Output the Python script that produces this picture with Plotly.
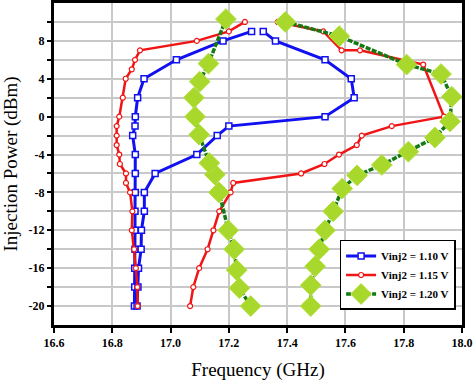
import plotly.graph_objects as go

# ---- data ----
# Vinj2 = 1.10 V : lower boundary (left branch), upper boundary (right branch)
b110_lo_f = [16.876, 16.877, 16.877, 16.878, 16.878, 16.878, 16.879, 16.879, 16.879, 16.870, 16.878, 16.879, 16.887, 16.909, 17.02, 17.18, 17.278]
b110_lo_p = [-20, -18, -16, -14, -12, -10, -8, -6, -4, -2, -1, 0, 2, 4, 6, 8, 9]
b110_hi_f = [17.318, 17.36, 17.53, 17.62, 17.63, 17.53, 17.20, 17.16, 17.09, 16.947, 16.91, 16.91, 16.90, 16.899, 16.89, 16.888, 16.885]
b110_hi_p = [9, 8, 6, 4, 2, 0, -1, -2, -4, -6, -8, -10, -12, -14, -16, -18, -20]

# Vinj2 = 1.15 V
b115_lo_f = [16.887, 16.886, 16.881, 16.875, 16.867, 16.869, 16.861, 16.847, 16.847, 16.826, 16.824, 16.815, 16.815, 16.815, 16.824, 16.836, 16.846, 16.867, 16.878, 16.895, 17.09, 17.2, 17.255]
b115_lo_p = [-20, -18, -16, -14, -12, -10, -8, -7, -6, -5, -4, -3, -2, -1, 0, 2, 4, 5, 6, 7, 8, 9, 10]
b115_hi_f = [17.368, 17.524, 17.587, 17.65, 17.867, 17.938, 17.759, 17.656, 17.639, 17.578, 17.528, 17.448, 17.215, 17.206, 17.167, 17.147, 17.127, 17.098, 17.078, 17.067]
b115_hi_p = [10, 9, 7, 7, 5.5, 0, -1, -2, -3, -4, -5, -6, -7, -8, -10, -12, -14, -16, -18, -20]

# Vinj2 = 1.20 V
b120_lo_f = [17.275, 17.236, 17.227, 17.218, 17.198, 17.166, 17.152, 17.133, 17.098, 17.084, 17.08, 17.10, 17.13, 17.19]
b120_lo_p = [-20, -18.1, -16.2, -14, -12, -8, -6.1, -4.9, -1.9, 0, 2, 3.7, 5.6, 10.3]
b120_hi_f = [17.394, 17.579, 17.81, 17.928, 17.965, 17.959, 17.907, 17.816, 17.725, 17.64, 17.589, 17.558, 17.53, 17.51, 17.496, 17.481, 17.481]
b120_hi_p = [10, 8.5, 5.5, 4.5, 2.1, -0.5, -2.2, -3.7, -5.1, -6.2, -7.6, -10, -12, -14, -15.8, -17.8, -20]

series_names = ["Vinj2 = 1.10 V", "Vinj2 = 1.15 V", "Vinj2 = 1.20 V"]

x_ticks = [16.6, 16.8, 17.0, 17.2, 17.4, 17.6, 17.8, 18.0]
x_ticklabels = ["16.6", "16.8", "17.0", "17.2", "17.4", "17.6", "17.8", "18.0"]
y_ticks = [-20, -18, -16, -14, -12, -10, -8, -6, -4, -2, 0, 2, 4, 6, 8, 10]
y_ticklabels = ["-20", "", "-16", "", "-12", "", "-8", "", "-4", "", "0", "", "4", "", "8", ""]


def join(a, b):
    return list(a) + [None] + list(b)


SERIF = "Liberation Serif, Times New Roman, serif"

fig = go.Figure()

fig.add_trace(go.Scatter(
    x=join(b110_lo_f, b110_hi_f), y=join(b110_lo_p, b110_hi_p),
    mode="lines+markers", name=series_names[0], connectgaps=False,
    line=dict(color="#1010f0", width=3),
    marker=dict(symbol="square", size=6, color="white", line=dict(color="#1010f0", width=1.5)),
))
fig.add_trace(go.Scatter(
    x=join(b115_lo_f, b115_hi_f), y=join(b115_lo_p, b115_hi_p),
    mode="lines+markers", name=series_names[1], connectgaps=False,
    line=dict(color="#f01414", width=2.5),
    marker=dict(symbol="circle", size=5, color="white", line=dict(color="#f01414", width=1.2)),
))
fig.add_trace(go.Scatter(
    x=join(b120_lo_f, b120_hi_f), y=join(b120_lo_p, b120_hi_p),
    mode="lines+markers", name=series_names[2], connectgaps=False,
    line=dict(color="#137a13", width=3.5, dash="5px,1.5px"),
    marker=dict(symbol="diamond", size=16, color="#a8d82c", line=dict(color="#b4e040", width=1)),
))

fig.update_layout(
    width=474, height=384,
    margin=dict(l=54, r=12, t=3, b=59, autoexpand=False),
    paper_bgcolor="white", plot_bgcolor="white",
    font=dict(family=SERIF, color="black"),
    showlegend=True,
    legend=dict(
        x=0.70, y=0.264, xanchor="left", yanchor="top",
        bgcolor="white", bordercolor="black", borderwidth=1.5,
        font=dict(family=SERIF, size=11, color="black", weight="bold"),
        tracegroupgap=0, itemwidth=30,
    ),
)

fig.update_xaxes(
    range=[16.6, 18.0], tickvals=x_ticks, ticktext=x_ticklabels,
    showgrid=True, gridcolor="#c8c8c8", gridwidth=1.5,
    showline=True, linecolor="black", linewidth=3, mirror=True,
    ticks="outside", ticklen=5, tickwidth=1.5, tickcolor="black",
    tickfont=dict(family=SERIF, size=12, color="black", weight="bold"),
    title=dict(text="Frequency (GHz)", font=dict(family=SERIF, size=19, color="black"), standoff=14),
    zeroline=False,
)
fig.update_yaxes(
    range=[-22, 12], tickvals=y_ticks, ticktext=y_ticklabels,
    showgrid=True, gridcolor="#c8c8c8", gridwidth=1.5,
    showline=True, linecolor="black", linewidth=3, mirror=True,
    ticks="outside", ticklen=4, tickwidth=1.5, tickcolor="black",
    tickfont=dict(family=SERIF, size=12, color="black", weight="bold"),
    title=dict(text="Injection Power (dBm)", font=dict(family=SERIF, size=19, color="black"), standoff=8),
    zeroline=False,
)

fig.write_html(
    "out.html",
    config={"displayModeBar": False},
    post_script="document.body.style.margin='0px';document.body.style.overflow='hidden';",
)
